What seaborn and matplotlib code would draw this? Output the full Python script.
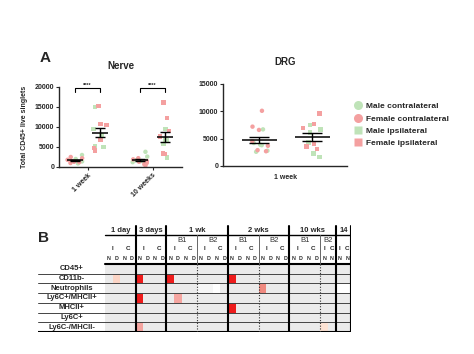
import numpy as np
import pandas as pd
import matplotlib
matplotlib.use('Agg')
import matplotlib.pyplot as plt
import seaborn as sns
from matplotlib.colors import ListedColormap
from matplotlib.lines import Line2D

# ---- panel A data (total CD45+ live singlets per sample) ----
nerve_1wk_contra_male = [3000, 2000, 1400, 1100, 900]
nerve_1wk_contra_female = [2500, 2200, 1800, 1500, 1300, 1200, 1000]
nerve_1wk_ipsi_male = [15000, 9500, 8000, 5200, 5000]
nerve_1wk_ipsi_female = [15300, 10700, 10500, 6700, 4800, 4100]
nerve_10wk_contra_male = [3800, 2600, 1700, 1500, 1200]
nerve_10wk_contra_female = [2200, 1900, 1500, 1300, 1000, 700, 400]
nerve_10wk_ipsi_male = [9500, 6900, 6750, 5700, 2400]
nerve_10wk_ipsi_female = [16100, 12300, 9000, 7600, 3400, 3250]
drg_contra_male = [6700, 4200, 3900, 3800, 2800, 2600]
drg_contra_female = [10100, 7200, 6600, 4500, 3700, 2900, 2700]
drg_ipsi_male = [7500, 6700, 6100, 4300, 2300, 1600]
drg_ipsi_female = [9600, 7700, 7000, 4000, 3550, 3100]

nerve_ticks = ['1 week', '10 weeks']
drg_ticks = ['1 week']
legend_labels = ['Male contralateral', 'Female contralateral',
                 'Male ipsilateral', 'Female ipsilateral']

# ---- panel B data ----
row_labels = ['CD45+', 'CD11b-', 'Neutrophils', 'Ly6C+/MHCII+', 'MHCII+',
              'Ly6C+', 'Ly6C-/MHCII-']
groups = ['1 day', '3 days', '1 wk', '2 wks', '10 wks', '14']
group_edges = [0, 4, 8, 16, 24, 30, 32]
batches = [('B1', 8, 12), ('B2', 12, 16), ('B1', 16, 20), ('B2', 20, 24),
           ('B1', 24, 28), ('B2', 28, 30)]
col_letters = list('NDND' * 7 + 'NNNN')
# 0 grey, 1 red, 2 salmon, 3 light salmon, 4 pale peach, 5 white, 6 off white, 7 very pale
cd45 = [0,0,0,0, 0,0,0,0, 0,0,0,0, 0,0,0,0, 0,0,0,0, 0,0,0,0, 0,0,0,0, 0,0, 0,0]
cd11b = [0,4,0,0, 1,0,0,0, 1,0,0,0, 0,0,0,0, 1,0,0,0, 0,0,0,0, 0,0,0,0, 0,0, 0,0]
neutro = [0,0,0,0, 0,0,0,0, 0,0,0,0, 6,6,5,0, 0,0,0,0, 2,0,0,0, 0,0,0,0, 0,0, 5,5]
ly6c_mhc = [0,0,0,0, 1,0,0,0, 0,3,0,0, 0,0,0,0, 0,0,0,0, 0,0,0,0, 0,0,0,0, 0,0, 0,0]
mhcii = [0,0,0,0, 0,0,0,0, 0,0,0,0, 0,0,0,0, 1,0,0,0, 0,0,0,0, 0,0,0,0, 0,0, 0,0]
ly6c = [0,0,0,0, 0,0,0,0, 0,0,0,0, 0,0,0,0, 0,0,0,0, 0,0,0,0, 0,0,0,0, 0,0, 0,0]
ly6c_neg = [0,0,0,0, 3,0,0,0, 0,0,0,0, 0,0,0,0, 0,0,0,0, 0,0,0,0, 0,0,0,0, 7,0, 0,0]
cell_colors = ['#ebebeb', '#ee1c1c', '#f08a80', '#f5a5a0', '#fcd5c6',
               '#ffffff', '#f6f6f6', '#fde3d4']

green = '#bfe3b8'
pink = '#f4a0a0'
pal = {'Male': green, 'Female': pink}

rows = []
def add(tissue, pos, side, male, female):
    for v in male:
        rows.append((tissue, pos, side, 'Male', v))
    for v in female:
        rows.append((tissue, pos, side, 'Female', v))

add('Nerve', 0.0, 'contra', nerve_1wk_contra_male, nerve_1wk_contra_female)
add('Nerve', 1.0, 'ipsi', nerve_1wk_ipsi_male, nerve_1wk_ipsi_female)
add('Nerve', 2.6, 'contra', nerve_10wk_contra_male, nerve_10wk_contra_female)
add('Nerve', 3.6, 'ipsi', nerve_10wk_ipsi_male, nerve_10wk_ipsi_female)
add('DRG', 0.0, 'contra', drg_contra_male, drg_contra_female)
add('DRG', 1.0, 'ipsi', drg_ipsi_male, drg_ipsi_female)
df = pd.DataFrame(rows, columns=['tissue', 'pos', 'side', 'sex', 'value'])

sns.set_style('ticks')
plt.rcParams['font.family'] = ['Liberation Sans', 'DejaVu Sans']
plt.rcParams['axes.linewidth'] = 1.0

fig = plt.figure(figsize=(4.74, 3.54), dpi=100)
ax_n = fig.add_axes([59/474, 1-167/354, (182-59)/474, 80/354])
ax_d = fig.add_axes([223/474, 1-166/354, (347-223)/474, 82/354])
ax_t = fig.add_axes([38/474, 1-332/354, (351-38)/474, (332-225)/354])

np.random.seed(4)
for ax, tissue, mean_w, cap, jit in [(ax_n, 'Nerve', 0.33, 3.5, 0.3),
                                     (ax_d, 'DRG', 0.33, 7, 0.2)]:
    sub = df[df.tissue == tissue]
    for side, mk in [('contra', 'o'), ('ipsi', 's')]:
        s = sub[sub.side == side]
        u = np.unique(s.pos)
        w = np.diff(u).min() if len(u) > 1 else 1
        sns.stripplot(data=s, x='pos', y='value', hue='sex', hue_order=['Male', 'Female'],
                      palette=pal, marker=mk, size=3.2, jitter=jit / w,
                      native_scale=True, legend=False, ax=ax, zorder=2)
    stats = sub.groupby('pos')['value'].agg(['mean', 'std', 'count'])
    for p, r in stats.iterrows():
        sem = r['std'] / np.sqrt(r['count'])
        ax.hlines(r['mean'], p - mean_w, p + mean_w, color='black', lw=1.1, zorder=3)
        ax.errorbar(p, r['mean'], yerr=sem, fmt='none', ecolor='black',
                    elinewidth=1.0, capsize=cap, capthick=1.0, zorder=3)
    sns.despine(ax=ax)
    ax.set_xlabel('')
    ax.set_ylabel('')
    ax.tick_params(labelsize=5, width=0.8, length=2, pad=1.5)

ax_n.set_xlim(-0.64, 4.28)
ax_n.set_ylim(0, 20000)
ax_n.set_yticks([0, 5000, 10000, 15000, 20000])
ax_n.set_xticks([0.5, 3.1])
ax_n.set_xticklabels(nerve_ticks, rotation=45, ha='right', rotation_mode='anchor',
                     fontsize=5, fontweight='bold')
ax_n.set_ylabel('Total CD45+ live singlets', fontsize=5, fontweight='bold', labelpad=5)
ax_n.set_title('Nerve', fontsize=7, fontweight='bold', pad=13)
for a, b in [(0, 1), (2.6, 3.6)]:
    ax_n.plot([a, a, b, b], [18700, 19700, 19700, 18700], color='black', lw=0.8,
              clip_on=False)
    ax_n.text((a + b) / 2, 19750, '****', ha='center', va='bottom', fontsize=4,
              fontweight='bold')
for lab in ax_n.get_yticklabels():
    lab.set_fontweight('bold')

ax_d.set_xlim(-0.68, 1.66)
ax_d.set_ylim(0, 15000)
ax_d.set_yticks([0, 5000, 10000, 15000])
ax_d.set_xticks([0.5])
ax_d.set_xticklabels(drg_ticks, fontsize=5, fontweight='bold')
ax_d.tick_params(axis='x', length=0, pad=6)
ax_d.set_title('DRG', fontsize=7, fontweight='bold', pad=14)
for lab in ax_d.get_yticklabels():
    lab.set_fontweight('bold')

handles = [Line2D([], [], ls='', marker='o', ms=6.5, mfc=green, mec='none'),
           Line2D([], [], ls='', marker='o', ms=6.5, mfc=pink, mec='none'),
           Line2D([], [], ls='', marker='s', ms=6, mfc=green, mec='none'),
           Line2D([], [], ls='', marker='s', ms=6, mfc=pink, mec='none')]
fig.legend(handles, legend_labels, loc='upper left', bbox_to_anchor=(350/474, 1-99/354),
           frameon=False, prop={'size': 6, 'weight': 'bold'}, handletextpad=0.3,
           labelspacing=0.55, borderaxespad=0, handlelength=1.2)

fig.text(40/474, 1-58/354, 'A', fontsize=11, fontweight='bold', va='center', ha='left')
fig.text(38/474, 1-238/354, 'B', fontsize=11, fontweight='bold', va='center', ha='left')

# ---- panel B table ----
codes = np.array([cd45, cd11b, neutro, ly6c_mhc, mhcii, ly6c, ly6c_neg])
cmap = ListedColormap(cell_colors)
sns.heatmap(codes, cmap=cmap, vmin=-0.5, vmax=len(cell_colors) - 0.5, cbar=False,
            xticklabels=False, yticklabels=False, linewidths=0, ax=ax_t)
ax_t.set_xlim(-8.7, 32)
ax_t.set_ylim(7, -4.0)
for i, lab in enumerate(row_labels):
    ax_t.text(-4.35, i + 0.5, lab, ha='center', va='center', fontsize=5.5,
              fontweight='bold')
for r in range(1, 7):
    ax_t.plot([-8.7, 32], [r, r], color='#444444', lw=0.7)
ax_t.plot([-8.7, 32], [7, 7], color='black', lw=1.5)
ax_t.plot([0, 32], [0, 0], color='black', lw=1.5)
ax_t.plot([0, 32], [-3, -3], color='black', lw=1.0)
for e in group_edges[1:]:
    ax_t.plot([e, e], [-3.9, 7], color='black', lw=1.5)
for e in [12, 20, 28]:
    ax_t.plot([e, e], [-3, 0], color='#666666', lw=0.7)
    ax_t.plot([e, e], [0, 7], color='#333333', lw=0.8, ls=(0, (1, 1.5)))
for g, a, b in zip(groups, group_edges[:-1], group_edges[1:]):
    ax_t.text((a + b) / 2, -3.45, g, ha='center', va='center', fontsize=5.5,
              fontweight='bold')
for bl, a, b in batches:
    ax_t.text((a + b) / 2, -2.45, bl, ha='center', va='center', fontsize=5.5,
              color='#333333')
for s in [0, 4, 8, 12, 16, 20, 24]:
    ax_t.text(s + 1, -1.55, 'I', ha='center', va='center', fontsize=4.5, fontweight='bold')
    ax_t.text(s + 3, -1.55, 'C', ha='center', va='center', fontsize=4.5, fontweight='bold')
for s in [28, 30]:
    ax_t.text(s + 0.5, -1.55, 'I', ha='center', va='center', fontsize=4.5, fontweight='bold')
    ax_t.text(s + 1.5, -1.55, 'C', ha='center', va='center', fontsize=4.5, fontweight='bold')
for c, l in enumerate(col_letters):
    ax_t.text(c + 0.5, -0.55, l, ha='center', va='center', fontsize=3.8, fontweight='bold')

fig.savefig('out.png', dpi=100)
